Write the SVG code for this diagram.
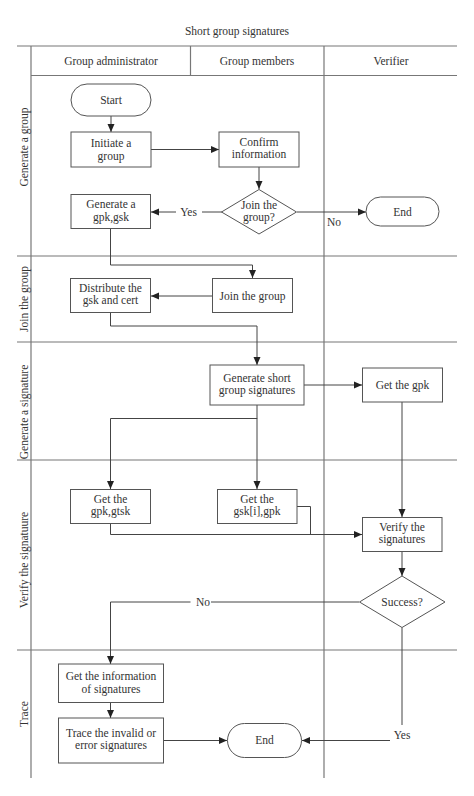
<svg xmlns="http://www.w3.org/2000/svg" width="474" height="796" viewBox="0 0 474 796">
<defs>
<marker id="ah" markerWidth="8" markerHeight="8" refX="8" refY="4" orient="auto" markerUnits="userSpaceOnUse">
<path d="M0,0.5 L8,4 L0,7.5 Z" fill="#222"/>
</marker>
<style>
text{font-family:"Liberation Serif","DejaVu Serif",serif;font-size:11.5px;fill:#333;text-anchor:middle}
.lane{stroke:#777;stroke-width:1.2;fill:none}
.box{fill:#fff;stroke:#555;stroke-width:1}
.c{stroke:#444;stroke-width:1;fill:none}
.a{stroke:#444;stroke-width:1;fill:none;marker-end:url(#ah)}
</style>
</defs>
<rect width="474" height="796" fill="#fff"/>
<text x="237" y="35">Short group signatures</text>
<g id="swimlanes">
<line class="lane" x1="17" y1="46" x2="457" y2="46"/>
<line class="lane" x1="31" y1="75.5" x2="457" y2="75.5"/>
<line class="lane" x1="17" y1="256" x2="457" y2="256"/>
<line class="lane" x1="17" y1="342" x2="457" y2="342"/>
<line class="lane" x1="17" y1="460" x2="457" y2="460"/>
<line class="lane" x1="17" y1="650" x2="457" y2="650"/>
<line class="lane" x1="31" y1="46" x2="31" y2="778"/>
<line class="lane" x1="190.5" y1="46" x2="190.5" y2="75.5"/>
<line class="lane" x1="324" y1="46" x2="324" y2="778"/>
<text x="111" y="65">Group administrator</text>
<text x="257" y="65">Group members</text>
<text x="391" y="65">Verifier</text>
<text transform="translate(28,147) rotate(-90)">Generate a group</text>
<text transform="translate(28,299) rotate(-90)">Join the group</text>
<text transform="translate(28,412) rotate(-90)">Generate a signature</text>
<text transform="translate(28,560) rotate(-90)">Verify the signatuure</text>
<text transform="translate(28,714) rotate(-90)">Trace</text>
</g>
<g id="connectors">
<line class="a" x1="111" y1="116" x2="111" y2="132"/>
<line class="a" x1="151" y1="149.5" x2="219" y2="149.5"/>
<line class="a" x1="259" y1="167" x2="259" y2="189"/>
<line class="c" x1="222" y1="212" x2="202" y2="212"/>
<line class="a" x1="176" y1="212" x2="151" y2="212"/>
<text x="188.5" y="216">Yes</text>
<line class="a" x1="297" y1="212" x2="366" y2="212"/>
<text x="334" y="226">No</text>
<polyline class="a" points="110.5,228.5 110.5,265 252.5,265 252.5,278"/>
<line class="a" x1="212" y1="296" x2="151" y2="296"/>
<polyline class="a" points="110.5,313 110.5,326 257,326 257,365"/>
<line class="a" x1="304" y1="385" x2="362" y2="385"/>
<polyline class="a" points="257,405 257,418.5 110.5,418.5 110.5,489"/>
<line class="a" x1="257" y1="418" x2="257" y2="489"/>
<line class="a" x1="402" y1="402" x2="402" y2="517"/>
<polyline class="a" points="110.5,524 110.5,534.5 362,534.5"/>
<polyline class="c" points="297,506.5 310.5,506.5 310.5,534.5"/>
<line class="a" x1="402" y1="551.5" x2="402" y2="576"/>
<line class="c" x1="359" y1="602" x2="211" y2="602"/>
<polyline class="a" points="190.5,602 110.5,602 110.5,664"/>
<text x="203" y="606">No</text>
<line class="a" x1="110.5" y1="702.5" x2="110.5" y2="718"/>
<line class="a" x1="163.5" y1="740.5" x2="227" y2="740.5"/>
<line class="c" x1="402" y1="627.5" x2="402" y2="725"/>
<text x="402" y="739">Yes</text>
<line class="a" x1="390" y1="740.5" x2="302" y2="740.5"/>
</g>
<g id="start">
<rect class="box" x="71" y="84" width="80" height="32" rx="16"/>
<text x="111" y="104">Start</text>
</g>
<g id="initiate">
<rect class="box" x="71" y="132" width="80" height="35"/>
<text x="111" y="147">Initiate a</text>
<text x="111" y="160">group</text>
</g>
<g id="confirm">
<rect class="box" x="219" y="132" width="80" height="35"/>
<text x="259" y="146">Confirm</text>
<text x="259" y="158">information</text>
</g>
<g id="join-decision">
<polygon class="box" points="259,189.5 296.5,212 259,234 221.5,212"/>
<text x="259" y="209">Join the</text>
<text x="259" y="221">group?</text>
</g>
<g id="generate-gpk">
<rect class="box" x="71" y="194.5" width="79.5" height="34"/>
<text x="111" y="208">Generate a</text>
<text x="111" y="221">gpk,gsk</text>
</g>
<g id="end-top">
<rect class="box" x="366" y="197" width="73" height="29" rx="14.5"/>
<text x="402.5" y="215.5">End</text>
</g>
<g id="distribute">
<rect class="box" x="70.5" y="278.5" width="80" height="34"/>
<text x="110.5" y="292">Distribute the</text>
<text x="110.5" y="304">gsk and cert</text>
</g>
<g id="join-group">
<rect class="box" x="212.5" y="278.5" width="80" height="34"/>
<text x="252.5" y="299.5">Join the group</text>
</g>
<g id="gen-short">
<rect class="box" x="210" y="365" width="94" height="40"/>
<text x="257" y="382">Generate short</text>
<text x="257" y="394">group signatures</text>
</g>
<g id="get-gpk">
<rect class="box" x="362.5" y="368" width="80" height="34"/>
<text x="402.5" y="389">Get the gpk</text>
</g>
<g id="get-gpk-gtsk">
<rect class="box" x="70.5" y="489.5" width="80" height="34"/>
<text x="110.5" y="503">Get the</text>
<text x="110.5" y="515">gpk,gtsk</text>
</g>
<g id="get-gsk-gpk">
<rect class="box" x="217.5" y="489.5" width="79.5" height="34"/>
<text x="257" y="503">Get the</text>
<text x="257" y="515">gsk[i],gpk</text>
</g>
<g id="verify">
<rect class="box" x="362.5" y="517.5" width="79.5" height="34"/>
<text x="402" y="531">Verify the</text>
<text x="402" y="543">signatures</text>
</g>
<g id="success">
<polygon class="box" points="402,576 445,602 402,627.5 359.5,602"/>
<text x="402" y="606">Success?</text>
</g>
<g id="get-info">
<rect class="box" x="58.5" y="664" width="105" height="38.5"/>
<text x="111" y="680">Get the information</text>
<text x="111" y="693">of signatures</text>
</g>
<g id="trace-invalid">
<rect class="box" x="58.5" y="718" width="105" height="45"/>
<text x="111" y="737">Trace the invalid or</text>
<text x="111" y="749">error signatures</text>
</g>
<g id="end-bottom">
<rect class="box" x="227.5" y="723.5" width="74" height="34" rx="17"/>
<text x="264.5" y="744">End</text>
</g>
</svg>
